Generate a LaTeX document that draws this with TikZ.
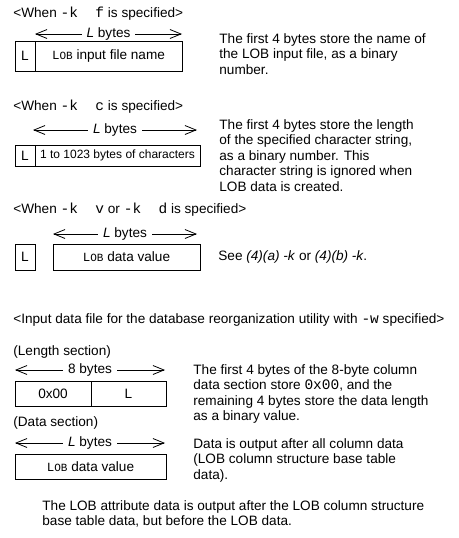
\documentclass[tikz,border=0pt]{standalone}
\usepackage{fontspec}
\setmainfont{Liberation Sans}
\newfontfamily\mono{Liberation Mono}
\usetikzlibrary{arrows.meta}
\newcommand\opt[1]{{\mono\fontsize{14.5}{15.5}\selectfont #1}}
\newcommand\lob{{\mono\fontsize{12.5}{12}\selectfont L\fontsize{11}{10}\selectfont OB}}

\begin{document}
\begin{tikzpicture}[x=1pt, y=-1pt, line width=0.8pt,
	font=\fontsize{13.6}{15.5}\selectfont,
	dim/.style={arrows={Straight Barb[length=11pt,width=9pt]-Straight Barb[length=11pt,width=9pt]}},
	dimlabel/.style={fill=white, inner sep=5pt, inner ysep=1pt},
	cell/.style={draw, inner sep=0},
	heading/.style={anchor=west, inner sep=0},
	note/.style={anchor=north west, align=left, inner sep=0}]
	\useasboundingbox (0,0) rectangle (458,538);
	% -k f
	\node[heading] (ftitle) at (13,14) {<When \opt{-k\ \ f} is specified>};
	\coordinate (fl) at (35,34);
	\coordinate (fr) at (182,34);
	\draw[dim] (fl) to node[dimlabel] (fdim) {\textit{L} bytes} (fr);
	\node[cell, minimum width=20, minimum height=30] (fL) at (25,56) {L};
	\node[cell, minimum width=147, minimum height=30] (fname) at (108.5,56) {\lob{} input file name};
	\node[note] (fnote) at (219,33) {The first 4 bytes store the name of\\the LOB input file, as a binary\\number.};
	% -k c
	\node[heading] (ctitle) at (13,107) {<When \opt{-k\ \ c} is specified>};
	\coordinate (cl) at (33,130);
	\coordinate (cr) at (197,130);
	\draw[dim] (cl) to node[dimlabel] (cdim) {\textit{L} bytes} (cr);
	\node[cell, minimum width=20, minimum height=21] (cL) at (25,155.5) {L};
	\node[cell, minimum width=165, minimum height=21, font=\fontsize{12}{12}\selectfont] (cchars) at (117.5,155.5) {1 to 1023 bytes of characters};
	\node[note] (cnote) at (219,119) {The first 4 bytes store the length\\of the specified character string,\\as a binary number. This\\character string is ignored when\\LOB data is created.};
	% -k v / -k d
	\node[heading] (vtitle) at (13,210) {<When \opt{-k\ \ v} or \opt{-k\ \ d} is specified>};
	\coordinate (vl) at (53,234);
	\coordinate (vr) at (197,234);
	\draw[dim] (vl) to node[dimlabel] (vdim) {\textit{L} bytes} (vr);
	\node[cell, minimum width=20, minimum height=26] (vL) at (25,257) {L};
	\node[cell, minimum width=147, minimum height=26] (vdata) at (126.5,257) {\lob{} data value};
	\node[heading] (vnote) at (218,257) {See \textit{(4)(a) -k} or \textit{(4)(b) -k}.};
	% -w
	\node[heading] (wtitle) at (13,320) {<Input data file for the database reorganization utility with \opt{-w} specified>};
	\node[heading] (lentitle) at (13,352) {(Length section)};
	\coordinate (len-l) at (15,370);
	\coordinate (len-r) at (165,370);
	\draw[dim] (len-l) to node[dimlabel] (lendim) {8 bytes} (len-r);
	\node[cell, minimum width=76, minimum height=25] (zero) at (53,393.5) {0x00};
	\node[cell, minimum width=75, minimum height=25] (wL) at (128.5,393.5) {L};
	\node[note] (lennote) at (193,364) {The first 4 bytes of the 8-byte column\\data section store \opt{0x00}, and the\\remaining 4 bytes store the data length\\as a binary value.};
	\node[heading] (datatitle) at (13,423) {(Data section)};
	\coordinate (data-l) at (15,443);
	\coordinate (data-r) at (165,443);
	\draw[dim] (data-l) to node[dimlabel] (datadim) {\textit{L} bytes} (data-r);
	\node[cell, minimum width=151, minimum height=25] (wdata) at (90.5,466.5) {\lob{} data value};
	\node[note] (datanote) at (193,438) {Data is output after all column data\\(LOB column structure base table\\data).};
	\node[note] (attrnote) at (42,500) {The LOB attribute data is output after the LOB column structure\\base table data, but before the LOB data.};
\end{tikzpicture}
\end{document}
